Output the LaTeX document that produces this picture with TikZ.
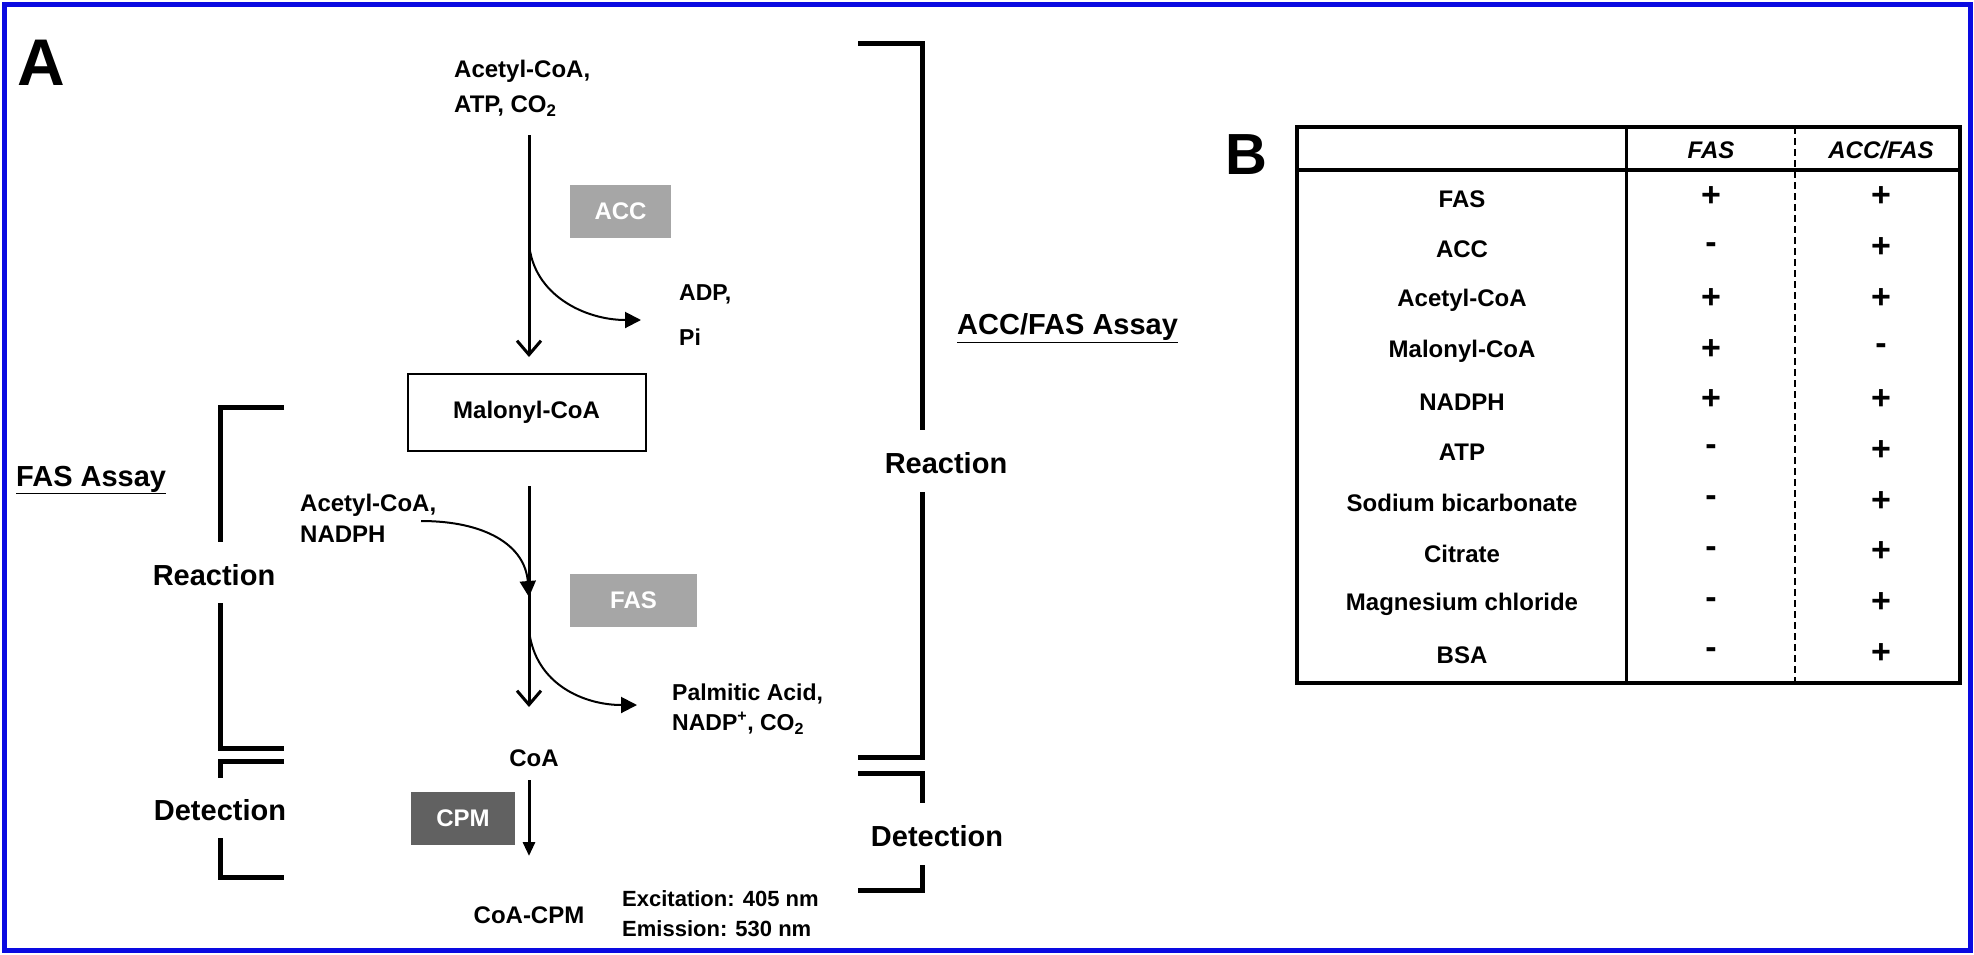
\documentclass[tikz,border=0pt]{standalone}
\usepackage{fontspec}
\setmainfont{Liberation Sans}
\usetikzlibrary{arrows.meta}
\begin{document}
\begin{tikzpicture}[x=1pt,y=-1pt,
  lbl/.style={font=\bfseries\fontsize{24}{31}\selectfont,inner sep=0pt,align=left},
  big/.style={font=\bfseries\fontsize{29}{34}\selectfont,inner sep=0pt},
  enz/.style={fill=#1,text=white,font=\bfseries\fontsize{24}{28}\selectfont,inner sep=0pt},
  brk/.style={line width=5pt},
  mainarr/.style={line width=3pt,-{Straight Barb[length=14pt,width=24pt,line width=3pt]}},
  sidearr/.style={line width=2pt,-{Triangle[length=16pt,width=16pt]}},
  cell/.style={font=\bfseries\fontsize{24}{28}\selectfont,inner sep=0pt},
  pm/.style={font=\bfseries\fontsize{34}{34}\selectfont,inner sep=0pt}]
\useasboundingbox (0,0) rectangle (1974,954);
\draw[line width=5pt,draw={rgb,255:red,10;green,10;blue,225}] (4,4) rectangle (1970,950);
% Panel A
\node[font=\bfseries\fontsize{66}{66}\selectfont,inner sep=0pt,anchor=north west] (la) at (17,40) {A};
\node[lbl,anchor=north west,font=\bfseries\fontsize{24}{35}\selectfont] (t1) at (454,60) {Acetyl-CoA,\\ATP, CO\textsubscript{2}};
\coordinate (a1s) at (529,135);
\node[draw,line width=2pt,minimum width=238pt,minimum height=77pt,cell,inner sep=0pt] (mal) at (526.5,412.5) {Malonyl-CoA};
\draw[mainarr] (a1s) -- (529,357);
\node[enz={black!35},minimum width=101pt,minimum height=53pt] (acc) at (620.5,211.5) {ACC};
\coordinate (c1s) at (529,243);
\coordinate (c1e) at (641,320);
\draw[sidearr] (c1s) .. controls (533,295) and (585,320) .. (c1e);
\node[lbl,anchor=north west,font=\bfseries\fontsize{23}{45}\selectfont] (adp) at (679,284) {ADP,\\Pi};
% FAS step
\draw[mainarr] (mal.south -| 529,0) ++(0,34) -- (529,707);
\node[lbl,anchor=north west] (t2) at (300,494) {Acetyl-CoA,\\NADPH};
\coordinate (c2s) at (421,521);
\coordinate (c2e) at (529,597);
\draw[sidearr] (c2s) .. controls (485,521) and (525,545) .. (c2e);
\node[enz={black!35},minimum width=127pt,minimum height=53pt] (fas) at (633.5,600.5) {FAS};
\coordinate (c3s) at (529,630);
\coordinate (c3e) at (637,705);
\draw[sidearr] (c3s) .. controls (535,685) and (585,705) .. (c3e);
\node[lbl,anchor=north west,font=\bfseries\fontsize{23}{30}\selectfont] (palm) at (672,684) {Palmitic Acid,\\NADP\textsuperscript{+}, CO\textsubscript{2}};
\node[cell] (coa) at (534,758) {CoA};
\node[enz={black!62},minimum width=104pt,minimum height=53pt] (cpm) at (463,818.5) {CPM};
\node[cell] (coacpm) at (529,915) {CoA-CPM};
\draw[line width=3pt,-{Triangle[length=14pt,width=12pt]}] (529,780) -- (529,856);
\node[lbl,anchor=north west,font=\bfseries\fontsize{22}{30}\selectfont] (exc) at (622,890) {Excitation: 405 nm\\Emission: 530 nm};
% left brackets
\draw[brk] (284,407) -- (220,407) -- (220,542);
\draw[brk] (220,603) -- (220,748) -- (284,748);
\draw[brk] (284,761) -- (220,761) -- (220,778);
\draw[brk] (220,838) -- (220,877) -- (284,877);
\node[big] (lr) at (214,575) {Reaction};
\node[big] (ld) at (220,810) {Detection};
\node[big,anchor=west] (fasa) at (16,480) {\underline{FAS Assay}};
% right brackets
\draw[brk] (858,43) -- (922,43) -- (922,430);
\draw[brk] (922,492) -- (922,757) -- (858,757);
\draw[brk] (858,773) -- (922,773) -- (922,803);
\draw[brk] (922,865) -- (922,890) -- (858,890);
\node[big] (rr) at (946,463) {Reaction};
\node[big] (rd) at (937,836) {Detection};
\node[big,anchor=west] (accfa) at (957,328) {\underline{ACC/FAS Assay}};
% Panel B
\node[font=\bfseries\fontsize{58}{58}\selectfont,inner sep=0pt] (lb) at (1246,155) {B};
\draw[line width=4pt] (1297,127) rectangle (1960,683);
\draw[line width=4pt] (1297,170) -- (1960,170);
\draw[line width=3pt] (1626,127) -- (1626,683);
\draw[line width=2pt,dash pattern=on 7pt off 4pt] (1795,127) -- (1795,683);
\node[cell,font=\bfseries\itshape\fontsize{24}{28}\selectfont] (h1) at (1711,150) {FAS};
\node[cell,font=\bfseries\itshape\fontsize{24}{28}\selectfont] (h2) at (1881,150) {ACC/FAS};
\foreach \i/\n/\a/\b in {0/FAS/+/+,1/ACC/-/+,2/Acetyl-CoA/+/+,3/Malonyl-CoA/+/-,4/NADPH/+/+,5/ATP/-/+,6/Sodium bicarbonate/-/+,7/Citrate/-/+,8/Magnesium chloride/-/+,9/BSA/-/+}{
  \node[cell] (r\i) at (1462,{199+50.7*\i}) {\n};
  \node[pm] (f\i) at (1711,{197+50.7*\i}) {\a};
  \node[pm] (g\i) at (1881,{197+50.7*\i}) {\b};
}
\end{tikzpicture}
\end{document}
